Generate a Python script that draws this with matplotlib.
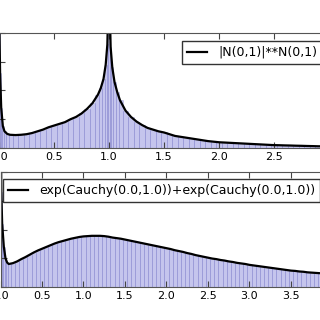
import numpy as np
import matplotlib
matplotlib.use('Agg')
import matplotlib.pyplot as plt

# top panel: |N(0,1)|**N(0,1), density
top_x = [0.0, 0.01, 0.02, 0.035, 0.05, 0.075, 0.1, 0.15, 0.2, 0.25, 0.3, 0.35, 0.4, 0.45,
         0.5, 0.55, 0.6, 0.65, 0.7, 0.75, 0.8, 0.85, 0.9, 0.925, 0.95, 0.97, 0.985, 1.0,
         1.015, 1.03, 1.05, 1.075, 1.1, 1.15, 1.2, 1.25, 1.3, 1.35, 1.4, 1.45, 1.5, 1.55,
         1.6, 1.65, 1.7, 1.75, 1.8, 1.85, 1.9, 1.95, 2.0, 2.05, 2.1, 2.15, 2.2, 2.25, 2.3,
         2.35, 2.4, 2.45, 2.5, 2.55, 2.6, 2.65, 2.7, 2.75, 2.8, 2.85, 2.9, 2.95, 3.0, 3.05,
         3.1, 3.15, 3.2]
top_y = [2.6, 1.3, 0.7, 0.38, 0.29, 0.245, 0.23, 0.225, 0.23, 0.24, 0.26, 0.29, 0.32, 0.36,
         0.39, 0.42, 0.45, 0.50, 0.54, 0.60, 0.68, 0.78, 0.93, 1.04, 1.2, 1.45, 1.8, 3.0,
         1.75, 1.4, 1.15, 0.97, 0.83, 0.65, 0.54, 0.46, 0.40, 0.35, 0.32, 0.29, 0.27, 0.24,
         0.21, 0.195, 0.18, 0.165, 0.15, 0.135, 0.12, 0.11, 0.10, 0.095, 0.09, 0.085, 0.08,
         0.075, 0.07, 0.065, 0.06, 0.055, 0.05, 0.048, 0.045, 0.043, 0.04, 0.038, 0.035,
         0.033, 0.03, 0.029, 0.028, 0.027, 0.025, 0.024, 0.022]
top_label = '|N(0,1)|**N(0,1)'

# bottom panel: exp(Cauchy)+exp(Cauchy)
bot_x = [0.0, 0.01, 0.02, 0.04, 0.06, 0.08, 0.1, 0.15, 0.2, 0.25, 0.3, 0.35, 0.4, 0.45,
         0.5, 0.55, 0.6, 0.65, 0.7, 0.75, 0.8, 0.85, 0.9, 0.95, 1.0, 1.05, 1.1, 1.15, 1.2,
         1.25, 1.3, 1.35, 1.4, 1.45, 1.5, 1.55, 1.6, 1.65, 1.7, 1.75, 1.8, 1.85, 1.9, 1.95,
         2.0, 2.05, 2.1, 2.15, 2.2, 2.25, 2.3, 2.35, 2.4, 2.45, 2.5, 2.55, 2.6, 2.65, 2.7,
         2.75, 2.8, 2.85, 2.9, 2.95, 3.0, 3.05, 3.1, 3.15, 3.2, 3.25, 3.3, 3.35, 3.4, 3.45,
         3.5, 3.55, 3.6, 3.65, 3.7, 3.75, 3.8, 3.85, 3.9, 3.95, 4.0, 4.05, 4.1, 4.15, 4.2]
bot_y = [0.6, 0.33, 0.22, 0.14, 0.10, 0.085, 0.080, 0.083, 0.089, 0.097, 0.104, 0.112,
         0.120, 0.127, 0.133, 0.139, 0.145, 0.151, 0.156, 0.160, 0.164, 0.168, 0.171,
         0.174, 0.176, 0.177, 0.178, 0.178, 0.178, 0.177, 0.175, 0.172, 0.170, 0.168,
         0.165, 0.162, 0.159, 0.156, 0.153, 0.150, 0.147, 0.144, 0.141, 0.138, 0.135,
         0.132, 0.128, 0.125, 0.122, 0.118, 0.115, 0.111, 0.108, 0.105, 0.102, 0.099,
         0.097, 0.094, 0.092, 0.089, 0.087, 0.084, 0.082, 0.080, 0.077, 0.075, 0.073,
         0.071, 0.069, 0.067, 0.065, 0.063, 0.061, 0.059, 0.057, 0.056, 0.054, 0.053,
         0.051, 0.050, 0.049, 0.048, 0.048, 0.047, 0.046, 0.045, 0.044, 0.043, 0.042]
bot_label = 'exp(Cauchy(0.0,1.0))+exp(Cauchy(0.0,1.0))'


def panel(ax, x, y, xmax, ymax, label, anchor):
    x = np.asarray(x)
    edges = np.concatenate([[x[0]], (x[1:] + x[:-1]) / 2, [x[-1] + (x[-1] - x[-2]) / 2]])
    ax.bar(edges[:-1], y, width=np.diff(edges), align='edge',
           facecolor=(0.35, 0.35, 0.8, 0.35), edgecolor=(0.3, 0.3, 0.7, 0.35), linewidth=0.4)
    ax.plot(x, y, color='black', lw=1.6, label=label)
    ax.set_xlim(0, xmax)
    ax.set_ylim(0, ymax)
    ax.set_xticks(np.arange(0, xmax + 0.01, 0.5))
    ax.set_yticks(np.linspace(0, ymax, 5))
    ax.tick_params(direction='in', top=True, right=True, labelsize=8, pad=3,
                   length=4, color='#444444')
    for s in ax.spines.values():
        s.set_color('#555555')
    leg = ax.legend(loc='upper left', bbox_to_anchor=anchor, bbox_transform=fig.transFigure,
                    borderaxespad=0, fontsize=9, fancybox=False, framealpha=1,
                    handlelength=1.6, handletextpad=0.9)
    leg.get_frame().set_edgecolor('#333333')


fig = plt.figure(figsize=(3.2, 3.2), dpi=100)
ax1 = fig.add_axes([-1 / 320, 0.5375, 352 / 320, 0.3594])
ax2 = fig.add_axes([0.5 / 320, 0.1031, 348.6 / 320, 0.3594])

panel(ax1, top_x, top_y, 3.2, 2.0, top_label, (182 / 320, 1 - 41 / 320))
panel(ax2, bot_x, bot_y, 4.2, 0.4, bot_label, (3 / 320, 1 - 179 / 320))

fig.savefig('out.png', dpi=100)
